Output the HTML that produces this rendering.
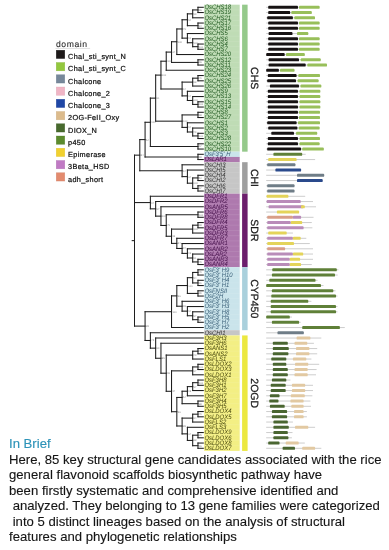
<!DOCTYPE html>
<html><head><meta charset="utf-8"><title>Flavonoid gene families</title>
<style>
html,body{margin:0;padding:0;background:#fff;}
body{width:389px;height:550px;overflow:hidden;position:relative;}
svg{position:absolute;left:0;top:0;text-rendering:geometricPrecision;}
.brief{position:absolute;left:0;top:0;width:389px;font-family:"Liberation Sans",Arial,sans-serif;}
.brief p{position:absolute;margin:0;white-space:pre;font-size:13.15px;line-height:15px;color:#151515;left:9.0px;-webkit-text-stroke:0.12px #151515;}
.brief .hd{color:#2d93b8;-webkit-text-stroke:0.15px #2d93b8;}
</style></head><body>

<svg width="389" height="550" viewBox="0 0 389 550">
<rect x="204.1" y="4.67" width="35.6" height="147" fill="#bfdcb5"/>
<rect x="204.1" y="151.68" width="35.6" height="5.25" fill="#cae4eb"/>
<rect x="204.1" y="156.93" width="35.6" height="5.25" fill="#ae79ae"/>
<rect x="204.1" y="162.18" width="35.6" height="31.5" fill="#c6c6c6"/>
<rect x="204.1" y="193.68" width="35.6" height="73.5" fill="#ae79ae"/>
<rect x="204.1" y="267.18" width="35.6" height="63" fill="#cae4eb"/>
<rect x="204.1" y="330.18" width="35.6" height="5.25" fill="#c6c6c6"/>
<rect x="204.1" y="335.43" width="35.6" height="115.5" fill="#f3ef84"/>
<g stroke="#ffffff" stroke-opacity="0.18" stroke-width="0.5">
<line x1="204.1" y1="9.93" x2="239.7" y2="9.93"/>
<line x1="204.1" y1="15.18" x2="239.7" y2="15.18"/>
<line x1="204.1" y1="20.43" x2="239.7" y2="20.43"/>
<line x1="204.1" y1="25.68" x2="239.7" y2="25.68"/>
<line x1="204.1" y1="30.93" x2="239.7" y2="30.93"/>
<line x1="204.1" y1="36.17" x2="239.7" y2="36.17"/>
<line x1="204.1" y1="41.42" x2="239.7" y2="41.42"/>
<line x1="204.1" y1="46.67" x2="239.7" y2="46.67"/>
<line x1="204.1" y1="51.92" x2="239.7" y2="51.92"/>
<line x1="204.1" y1="57.17" x2="239.7" y2="57.17"/>
<line x1="204.1" y1="62.42" x2="239.7" y2="62.42"/>
<line x1="204.1" y1="67.67" x2="239.7" y2="67.67"/>
<line x1="204.1" y1="72.92" x2="239.7" y2="72.92"/>
<line x1="204.1" y1="78.17" x2="239.7" y2="78.17"/>
<line x1="204.1" y1="83.42" x2="239.7" y2="83.42"/>
<line x1="204.1" y1="88.67" x2="239.7" y2="88.67"/>
<line x1="204.1" y1="93.92" x2="239.7" y2="93.92"/>
<line x1="204.1" y1="99.17" x2="239.7" y2="99.17"/>
<line x1="204.1" y1="104.42" x2="239.7" y2="104.42"/>
<line x1="204.1" y1="109.67" x2="239.7" y2="109.67"/>
<line x1="204.1" y1="114.92" x2="239.7" y2="114.92"/>
<line x1="204.1" y1="120.17" x2="239.7" y2="120.17"/>
<line x1="204.1" y1="125.42" x2="239.7" y2="125.42"/>
<line x1="204.1" y1="130.68" x2="239.7" y2="130.68"/>
<line x1="204.1" y1="135.93" x2="239.7" y2="135.93"/>
<line x1="204.1" y1="141.18" x2="239.7" y2="141.18"/>
<line x1="204.1" y1="146.43" x2="239.7" y2="146.43"/>
<line x1="204.1" y1="167.43" x2="239.7" y2="167.43"/>
<line x1="204.1" y1="172.68" x2="239.7" y2="172.68"/>
<line x1="204.1" y1="177.93" x2="239.7" y2="177.93"/>
<line x1="204.1" y1="183.18" x2="239.7" y2="183.18"/>
<line x1="204.1" y1="188.43" x2="239.7" y2="188.43"/>
<line x1="204.1" y1="198.93" x2="239.7" y2="198.93"/>
<line x1="204.1" y1="204.18" x2="239.7" y2="204.18"/>
<line x1="204.1" y1="209.43" x2="239.7" y2="209.43"/>
<line x1="204.1" y1="214.68" x2="239.7" y2="214.68"/>
<line x1="204.1" y1="219.93" x2="239.7" y2="219.93"/>
<line x1="204.1" y1="225.18" x2="239.7" y2="225.18"/>
<line x1="204.1" y1="230.43" x2="239.7" y2="230.43"/>
<line x1="204.1" y1="235.68" x2="239.7" y2="235.68"/>
<line x1="204.1" y1="240.93" x2="239.7" y2="240.93"/>
<line x1="204.1" y1="246.18" x2="239.7" y2="246.18"/>
<line x1="204.1" y1="251.43" x2="239.7" y2="251.43"/>
<line x1="204.1" y1="256.68" x2="239.7" y2="256.68"/>
<line x1="204.1" y1="261.93" x2="239.7" y2="261.93"/>
<line x1="204.1" y1="272.43" x2="239.7" y2="272.43"/>
<line x1="204.1" y1="277.68" x2="239.7" y2="277.68"/>
<line x1="204.1" y1="282.93" x2="239.7" y2="282.93"/>
<line x1="204.1" y1="288.18" x2="239.7" y2="288.18"/>
<line x1="204.1" y1="293.43" x2="239.7" y2="293.43"/>
<line x1="204.1" y1="298.68" x2="239.7" y2="298.68"/>
<line x1="204.1" y1="303.93" x2="239.7" y2="303.93"/>
<line x1="204.1" y1="309.18" x2="239.7" y2="309.18"/>
<line x1="204.1" y1="314.43" x2="239.7" y2="314.43"/>
<line x1="204.1" y1="319.68" x2="239.7" y2="319.68"/>
<line x1="204.1" y1="324.93" x2="239.7" y2="324.93"/>
<line x1="204.1" y1="340.68" x2="239.7" y2="340.68"/>
<line x1="204.1" y1="345.93" x2="239.7" y2="345.93"/>
<line x1="204.1" y1="351.18" x2="239.7" y2="351.18"/>
<line x1="204.1" y1="356.43" x2="239.7" y2="356.43"/>
<line x1="204.1" y1="361.68" x2="239.7" y2="361.68"/>
<line x1="204.1" y1="366.93" x2="239.7" y2="366.93"/>
<line x1="204.1" y1="372.18" x2="239.7" y2="372.18"/>
<line x1="204.1" y1="377.43" x2="239.7" y2="377.43"/>
<line x1="204.1" y1="382.68" x2="239.7" y2="382.68"/>
<line x1="204.1" y1="387.93" x2="239.7" y2="387.93"/>
<line x1="204.1" y1="393.18" x2="239.7" y2="393.18"/>
<line x1="204.1" y1="398.43" x2="239.7" y2="398.43"/>
<line x1="204.1" y1="403.68" x2="239.7" y2="403.68"/>
<line x1="204.1" y1="408.93" x2="239.7" y2="408.93"/>
<line x1="204.1" y1="414.18" x2="239.7" y2="414.18"/>
<line x1="204.1" y1="419.43" x2="239.7" y2="419.43"/>
<line x1="204.1" y1="424.68" x2="239.7" y2="424.68"/>
<line x1="204.1" y1="429.93" x2="239.7" y2="429.93"/>
<line x1="204.1" y1="435.18" x2="239.7" y2="435.18"/>
<line x1="204.1" y1="440.43" x2="239.7" y2="440.43"/>
<line x1="204.1" y1="445.68" x2="239.7" y2="445.68"/>
</g>
<rect x="242.1" y="4.67" width="5.5" height="147" fill="#95c98b"/>
<rect x="242.1" y="162.18" width="5.5" height="31.5" fill="#9f9f9f"/>
<rect x="242.1" y="193.68" width="5.5" height="73.5" fill="#6c1e6c"/>
<rect x="242.1" y="267.18" width="5.5" height="63" fill="#aad0dc"/>
<rect x="242.1" y="335.43" width="5.5" height="115.5" fill="#ece841"/>
<text x="0" y="0" transform="translate(250.6 78.18) rotate(90)" text-anchor="middle" font-family="Liberation Sans, Arial, sans-serif" font-size="10.5" fill="#1a1a1a" stroke="#1a1a1a" stroke-width="0.25">CHS</text>
<text x="0" y="0" transform="translate(250.6 177.93) rotate(90)" text-anchor="middle" font-family="Liberation Sans, Arial, sans-serif" font-size="10.5" fill="#1a1a1a" stroke="#1a1a1a" stroke-width="0.25">CHI</text>
<text x="0" y="0" transform="translate(250.6 230.43) rotate(90)" text-anchor="middle" font-family="Liberation Sans, Arial, sans-serif" font-size="10.5" fill="#1a1a1a" stroke="#1a1a1a" stroke-width="0.25">SDR</text>
<text x="0" y="0" transform="translate(250.6 298.68) rotate(90)" text-anchor="middle" font-family="Liberation Sans, Arial, sans-serif" font-size="10.5" fill="#1a1a1a" stroke="#1a1a1a" stroke-width="0.25">CYP450</text>
<text x="0" y="0" transform="translate(250.6 393.18) rotate(90)" text-anchor="middle" font-family="Liberation Sans, Arial, sans-serif" font-size="10.5" fill="#1a1a1a" stroke="#1a1a1a" stroke-width="0.25">2OGD</text>
<g stroke="#1e1e1e" stroke-width="1.05" stroke-linecap="square" fill="none">
<line x1="197.98" y1="7.3" x2="203.3" y2="7.3"/>
<line x1="197.98" y1="12.55" x2="203.3" y2="12.55"/>
<line x1="197.98" y1="7.3" x2="197.98" y2="12.55"/>
<line x1="192.69" y1="9.93" x2="197.98" y2="9.93"/>
<line x1="192.69" y1="17.8" x2="203.3" y2="17.8"/>
<line x1="192.69" y1="9.93" x2="192.69" y2="17.8"/>
<line x1="197.98" y1="23.05" x2="203.3" y2="23.05"/>
<line x1="197.98" y1="28.3" x2="203.3" y2="28.3"/>
<line x1="197.98" y1="23.05" x2="197.98" y2="28.3"/>
<line x1="187.4" y1="13.86" x2="192.69" y2="13.86"/>
<line x1="187.4" y1="25.68" x2="197.98" y2="25.68"/>
<line x1="187.4" y1="13.86" x2="187.4" y2="25.68"/>
<line x1="197.98" y1="44.05" x2="203.3" y2="44.05"/>
<line x1="197.98" y1="49.3" x2="203.3" y2="49.3"/>
<line x1="197.98" y1="44.05" x2="197.98" y2="49.3"/>
<line x1="192.69" y1="38.8" x2="203.3" y2="38.8"/>
<line x1="192.69" y1="46.67" x2="197.98" y2="46.67"/>
<line x1="192.69" y1="38.8" x2="192.69" y2="46.67"/>
<line x1="187.4" y1="33.55" x2="203.3" y2="33.55"/>
<line x1="187.4" y1="42.74" x2="192.69" y2="42.74"/>
<line x1="187.4" y1="33.55" x2="187.4" y2="42.74"/>
<line x1="182.11" y1="19.77" x2="187.4" y2="19.77"/>
<line x1="182.11" y1="38.14" x2="187.4" y2="38.14"/>
<line x1="182.11" y1="19.77" x2="182.11" y2="38.14"/>
<line x1="176.82" y1="28.96" x2="182.11" y2="28.96"/>
<line x1="176.82" y1="54.55" x2="203.3" y2="54.55"/>
<line x1="176.82" y1="28.96" x2="176.82" y2="54.55"/>
<line x1="197.98" y1="59.8" x2="203.3" y2="59.8"/>
<line x1="197.98" y1="65.05" x2="203.3" y2="65.05"/>
<line x1="197.98" y1="59.8" x2="197.98" y2="65.05"/>
<line x1="171.53" y1="41.75" x2="176.82" y2="41.75"/>
<line x1="171.53" y1="62.42" x2="197.98" y2="62.42"/>
<line x1="171.53" y1="41.75" x2="171.53" y2="62.42"/>
<line x1="166.24" y1="52.09" x2="171.53" y2="52.09"/>
<line x1="166.24" y1="70.3" x2="203.3" y2="70.3"/>
<line x1="166.24" y1="52.09" x2="166.24" y2="70.3"/>
<line x1="197.98" y1="75.55" x2="203.3" y2="75.55"/>
<line x1="197.98" y1="80.8" x2="203.3" y2="80.8"/>
<line x1="197.98" y1="75.55" x2="197.98" y2="80.8"/>
<line x1="192.69" y1="78.17" x2="197.98" y2="78.17"/>
<line x1="192.69" y1="86.05" x2="203.3" y2="86.05"/>
<line x1="192.69" y1="78.17" x2="192.69" y2="86.05"/>
<line x1="197.98" y1="101.8" x2="203.3" y2="101.8"/>
<line x1="197.98" y1="107.05" x2="203.3" y2="107.05"/>
<line x1="197.98" y1="101.8" x2="197.98" y2="107.05"/>
<line x1="192.69" y1="96.55" x2="203.3" y2="96.55"/>
<line x1="192.69" y1="104.42" x2="197.98" y2="104.42"/>
<line x1="192.69" y1="96.55" x2="192.69" y2="104.42"/>
<line x1="187.4" y1="91.3" x2="203.3" y2="91.3"/>
<line x1="187.4" y1="100.49" x2="192.69" y2="100.49"/>
<line x1="187.4" y1="91.3" x2="187.4" y2="100.49"/>
<line x1="182.11" y1="82.11" x2="192.69" y2="82.11"/>
<line x1="182.11" y1="95.89" x2="187.4" y2="95.89"/>
<line x1="182.11" y1="82.11" x2="182.11" y2="95.89"/>
<line x1="160.95" y1="61.19" x2="166.24" y2="61.19"/>
<line x1="160.95" y1="89" x2="182.11" y2="89"/>
<line x1="160.95" y1="61.19" x2="160.95" y2="89"/>
<line x1="197.98" y1="112.3" x2="203.3" y2="112.3"/>
<line x1="197.98" y1="117.55" x2="203.3" y2="117.55"/>
<line x1="197.98" y1="112.3" x2="197.98" y2="117.55"/>
<line x1="197.98" y1="133.3" x2="203.3" y2="133.3"/>
<line x1="197.98" y1="138.55" x2="203.3" y2="138.55"/>
<line x1="197.98" y1="133.3" x2="197.98" y2="138.55"/>
<line x1="192.69" y1="128.05" x2="203.3" y2="128.05"/>
<line x1="192.69" y1="135.93" x2="197.98" y2="135.93"/>
<line x1="192.69" y1="128.05" x2="192.69" y2="135.93"/>
<line x1="187.4" y1="122.8" x2="203.3" y2="122.8"/>
<line x1="187.4" y1="131.99" x2="192.69" y2="131.99"/>
<line x1="187.4" y1="122.8" x2="187.4" y2="131.99"/>
<line x1="182.11" y1="114.92" x2="197.98" y2="114.92"/>
<line x1="182.11" y1="127.39" x2="187.4" y2="127.39"/>
<line x1="182.11" y1="114.92" x2="182.11" y2="127.39"/>
<line x1="155.66" y1="75.1" x2="160.95" y2="75.1"/>
<line x1="155.66" y1="121.16" x2="182.11" y2="121.16"/>
<line x1="155.66" y1="75.1" x2="155.66" y2="121.16"/>
<line x1="197.98" y1="143.8" x2="203.3" y2="143.8"/>
<line x1="197.98" y1="149.05" x2="203.3" y2="149.05"/>
<line x1="197.98" y1="143.8" x2="197.98" y2="149.05"/>
<line x1="150.37" y1="98.13" x2="155.66" y2="98.13"/>
<line x1="150.37" y1="146.43" x2="197.98" y2="146.43"/>
<line x1="150.37" y1="98.13" x2="150.37" y2="146.43"/>
<line x1="197.98" y1="154.3" x2="203.3" y2="154.3"/>
<line x1="197.98" y1="159.55" x2="203.3" y2="159.55"/>
<line x1="197.98" y1="154.3" x2="197.98" y2="159.55"/>
<line x1="145.08" y1="122.28" x2="150.37" y2="122.28"/>
<line x1="145.08" y1="156.93" x2="197.98" y2="156.93"/>
<line x1="145.08" y1="122.28" x2="145.08" y2="156.93"/>
<line x1="197.98" y1="175.3" x2="203.3" y2="175.3"/>
<line x1="197.98" y1="180.55" x2="203.3" y2="180.55"/>
<line x1="197.98" y1="175.3" x2="197.98" y2="180.55"/>
<line x1="197.98" y1="185.8" x2="203.3" y2="185.8"/>
<line x1="197.98" y1="191.05" x2="203.3" y2="191.05"/>
<line x1="197.98" y1="185.8" x2="197.98" y2="191.05"/>
<line x1="192.69" y1="177.93" x2="197.98" y2="177.93"/>
<line x1="192.69" y1="188.43" x2="197.98" y2="188.43"/>
<line x1="192.69" y1="177.93" x2="192.69" y2="188.43"/>
<line x1="187.4" y1="170.05" x2="203.3" y2="170.05"/>
<line x1="187.4" y1="183.18" x2="192.69" y2="183.18"/>
<line x1="187.4" y1="170.05" x2="187.4" y2="183.18"/>
<line x1="182.11" y1="164.8" x2="203.3" y2="164.8"/>
<line x1="182.11" y1="176.61" x2="187.4" y2="176.61"/>
<line x1="182.11" y1="164.8" x2="182.11" y2="176.61"/>
<line x1="139.79" y1="139.6" x2="145.08" y2="139.6"/>
<line x1="139.79" y1="170.71" x2="182.11" y2="170.71"/>
<line x1="139.79" y1="139.6" x2="139.79" y2="170.71"/>
<line x1="197.98" y1="212.05" x2="203.3" y2="212.05"/>
<line x1="197.98" y1="217.3" x2="203.3" y2="217.3"/>
<line x1="197.98" y1="212.05" x2="197.98" y2="217.3"/>
<line x1="197.98" y1="222.55" x2="203.3" y2="222.55"/>
<line x1="197.98" y1="227.8" x2="203.3" y2="227.8"/>
<line x1="197.98" y1="222.55" x2="197.98" y2="227.8"/>
<line x1="192.69" y1="225.18" x2="197.98" y2="225.18"/>
<line x1="192.69" y1="233.05" x2="203.3" y2="233.05"/>
<line x1="192.69" y1="225.18" x2="192.69" y2="233.05"/>
<line x1="197.98" y1="259.3" x2="203.3" y2="259.3"/>
<line x1="197.98" y1="264.55" x2="203.3" y2="264.55"/>
<line x1="197.98" y1="259.3" x2="197.98" y2="264.55"/>
<line x1="192.69" y1="254.05" x2="203.3" y2="254.05"/>
<line x1="192.69" y1="261.93" x2="197.98" y2="261.93"/>
<line x1="192.69" y1="254.05" x2="192.69" y2="261.93"/>
<line x1="187.4" y1="248.8" x2="203.3" y2="248.8"/>
<line x1="187.4" y1="257.99" x2="192.69" y2="257.99"/>
<line x1="187.4" y1="248.8" x2="187.4" y2="257.99"/>
<line x1="182.11" y1="243.55" x2="203.3" y2="243.55"/>
<line x1="182.11" y1="253.39" x2="187.4" y2="253.39"/>
<line x1="182.11" y1="243.55" x2="182.11" y2="253.39"/>
<line x1="176.82" y1="238.3" x2="203.3" y2="238.3"/>
<line x1="176.82" y1="248.47" x2="182.11" y2="248.47"/>
<line x1="176.82" y1="238.3" x2="176.82" y2="248.47"/>
<line x1="171.53" y1="229.11" x2="192.69" y2="229.11"/>
<line x1="171.53" y1="243.39" x2="176.82" y2="243.39"/>
<line x1="171.53" y1="229.11" x2="171.53" y2="243.39"/>
<line x1="166.24" y1="214.68" x2="197.98" y2="214.68"/>
<line x1="166.24" y1="236.25" x2="171.53" y2="236.25"/>
<line x1="166.24" y1="214.68" x2="166.24" y2="236.25"/>
<line x1="160.95" y1="206.8" x2="203.3" y2="206.8"/>
<line x1="160.95" y1="225.46" x2="166.24" y2="225.46"/>
<line x1="160.95" y1="206.8" x2="160.95" y2="225.46"/>
<line x1="155.66" y1="201.55" x2="203.3" y2="201.55"/>
<line x1="155.66" y1="216.13" x2="160.95" y2="216.13"/>
<line x1="155.66" y1="201.55" x2="155.66" y2="216.13"/>
<line x1="150.37" y1="196.3" x2="203.3" y2="196.3"/>
<line x1="150.37" y1="208.84" x2="155.66" y2="208.84"/>
<line x1="150.37" y1="196.3" x2="150.37" y2="208.84"/>
<line x1="197.98" y1="269.8" x2="203.3" y2="269.8"/>
<line x1="197.98" y1="275.05" x2="203.3" y2="275.05"/>
<line x1="197.98" y1="269.8" x2="197.98" y2="275.05"/>
<line x1="197.98" y1="280.3" x2="203.3" y2="280.3"/>
<line x1="197.98" y1="285.55" x2="203.3" y2="285.55"/>
<line x1="197.98" y1="280.3" x2="197.98" y2="285.55"/>
<line x1="192.69" y1="272.43" x2="197.98" y2="272.43"/>
<line x1="192.69" y1="282.93" x2="197.98" y2="282.93"/>
<line x1="192.69" y1="272.43" x2="192.69" y2="282.93"/>
<line x1="197.98" y1="290.8" x2="203.3" y2="290.8"/>
<line x1="197.98" y1="296.05" x2="203.3" y2="296.05"/>
<line x1="197.98" y1="290.8" x2="197.98" y2="296.05"/>
<line x1="187.4" y1="277.68" x2="192.69" y2="277.68"/>
<line x1="187.4" y1="293.43" x2="197.98" y2="293.43"/>
<line x1="187.4" y1="277.68" x2="187.4" y2="293.43"/>
<line x1="197.98" y1="317.05" x2="203.3" y2="317.05"/>
<line x1="197.98" y1="322.3" x2="203.3" y2="322.3"/>
<line x1="197.98" y1="317.05" x2="197.98" y2="322.3"/>
<line x1="192.69" y1="311.8" x2="203.3" y2="311.8"/>
<line x1="192.69" y1="319.68" x2="197.98" y2="319.68"/>
<line x1="192.69" y1="311.8" x2="192.69" y2="319.68"/>
<line x1="187.4" y1="306.55" x2="203.3" y2="306.55"/>
<line x1="187.4" y1="315.74" x2="192.69" y2="315.74"/>
<line x1="187.4" y1="306.55" x2="187.4" y2="315.74"/>
<line x1="182.11" y1="301.3" x2="203.3" y2="301.3"/>
<line x1="182.11" y1="311.14" x2="187.4" y2="311.14"/>
<line x1="182.11" y1="301.3" x2="182.11" y2="311.14"/>
<line x1="176.82" y1="285.55" x2="187.4" y2="285.55"/>
<line x1="176.82" y1="306.22" x2="182.11" y2="306.22"/>
<line x1="176.82" y1="285.55" x2="176.82" y2="306.22"/>
<line x1="171.53" y1="295.89" x2="176.82" y2="295.89"/>
<line x1="171.53" y1="327.55" x2="203.3" y2="327.55"/>
<line x1="171.53" y1="295.89" x2="171.53" y2="327.55"/>
<line x1="197.98" y1="348.55" x2="203.3" y2="348.55"/>
<line x1="197.98" y1="353.8" x2="203.3" y2="353.8"/>
<line x1="197.98" y1="348.55" x2="197.98" y2="353.8"/>
<line x1="192.69" y1="351.18" x2="197.98" y2="351.18"/>
<line x1="192.69" y1="359.05" x2="203.3" y2="359.05"/>
<line x1="192.69" y1="351.18" x2="192.69" y2="359.05"/>
<line x1="197.98" y1="364.3" x2="203.3" y2="364.3"/>
<line x1="197.98" y1="369.55" x2="203.3" y2="369.55"/>
<line x1="197.98" y1="364.3" x2="197.98" y2="369.55"/>
<line x1="192.69" y1="366.93" x2="197.98" y2="366.93"/>
<line x1="192.69" y1="374.8" x2="203.3" y2="374.8"/>
<line x1="192.69" y1="366.93" x2="192.69" y2="374.8"/>
<line x1="197.98" y1="380.05" x2="203.3" y2="380.05"/>
<line x1="197.98" y1="385.3" x2="203.3" y2="385.3"/>
<line x1="197.98" y1="380.05" x2="197.98" y2="385.3"/>
<line x1="192.69" y1="382.68" x2="197.98" y2="382.68"/>
<line x1="192.69" y1="390.55" x2="203.3" y2="390.55"/>
<line x1="192.69" y1="382.68" x2="192.69" y2="390.55"/>
<line x1="187.4" y1="386.61" x2="192.69" y2="386.61"/>
<line x1="187.4" y1="395.8" x2="203.3" y2="395.8"/>
<line x1="187.4" y1="386.61" x2="187.4" y2="395.8"/>
<line x1="197.98" y1="401.05" x2="203.3" y2="401.05"/>
<line x1="197.98" y1="406.3" x2="203.3" y2="406.3"/>
<line x1="197.98" y1="401.05" x2="197.98" y2="406.3"/>
<line x1="182.11" y1="391.21" x2="187.4" y2="391.21"/>
<line x1="182.11" y1="403.68" x2="197.98" y2="403.68"/>
<line x1="182.11" y1="391.21" x2="182.11" y2="403.68"/>
<line x1="197.98" y1="411.55" x2="203.3" y2="411.55"/>
<line x1="197.98" y1="416.8" x2="203.3" y2="416.8"/>
<line x1="197.98" y1="411.55" x2="197.98" y2="416.8"/>
<line x1="192.69" y1="414.18" x2="197.98" y2="414.18"/>
<line x1="192.69" y1="422.05" x2="203.3" y2="422.05"/>
<line x1="192.69" y1="414.18" x2="192.69" y2="422.05"/>
<line x1="197.98" y1="432.55" x2="203.3" y2="432.55"/>
<line x1="197.98" y1="437.8" x2="203.3" y2="437.8"/>
<line x1="197.98" y1="432.55" x2="197.98" y2="437.8"/>
<line x1="197.98" y1="443.05" x2="203.3" y2="443.05"/>
<line x1="197.98" y1="448.3" x2="203.3" y2="448.3"/>
<line x1="197.98" y1="443.05" x2="197.98" y2="448.3"/>
<line x1="192.69" y1="435.18" x2="197.98" y2="435.18"/>
<line x1="192.69" y1="445.68" x2="197.98" y2="445.68"/>
<line x1="192.69" y1="435.18" x2="192.69" y2="445.68"/>
<line x1="187.4" y1="427.3" x2="203.3" y2="427.3"/>
<line x1="187.4" y1="440.43" x2="192.69" y2="440.43"/>
<line x1="187.4" y1="427.3" x2="187.4" y2="440.43"/>
<line x1="182.11" y1="418.11" x2="192.69" y2="418.11"/>
<line x1="182.11" y1="433.86" x2="187.4" y2="433.86"/>
<line x1="182.11" y1="418.11" x2="182.11" y2="433.86"/>
<line x1="176.82" y1="397.44" x2="182.11" y2="397.44"/>
<line x1="176.82" y1="425.99" x2="182.11" y2="425.99"/>
<line x1="176.82" y1="397.44" x2="176.82" y2="425.99"/>
<line x1="171.53" y1="370.86" x2="192.69" y2="370.86"/>
<line x1="171.53" y1="411.71" x2="176.82" y2="411.71"/>
<line x1="171.53" y1="370.86" x2="171.53" y2="411.71"/>
<line x1="166.24" y1="355.11" x2="192.69" y2="355.11"/>
<line x1="166.24" y1="391.29" x2="171.53" y2="391.29"/>
<line x1="166.24" y1="355.11" x2="166.24" y2="391.29"/>
<line x1="160.95" y1="343.3" x2="203.3" y2="343.3"/>
<line x1="160.95" y1="373.2" x2="166.24" y2="373.2"/>
<line x1="160.95" y1="343.3" x2="160.95" y2="373.2"/>
<line x1="155.66" y1="338.05" x2="203.3" y2="338.05"/>
<line x1="155.66" y1="358.25" x2="160.95" y2="358.25"/>
<line x1="155.66" y1="338.05" x2="155.66" y2="358.25"/>
<line x1="150.37" y1="332.8" x2="203.3" y2="332.8"/>
<line x1="150.37" y1="348.15" x2="155.66" y2="348.15"/>
<line x1="150.37" y1="332.8" x2="150.37" y2="348.15"/>
<line x1="145.08" y1="311.72" x2="171.53" y2="311.72"/>
<line x1="145.08" y1="340.48" x2="150.37" y2="340.48"/>
<line x1="145.08" y1="311.72" x2="145.08" y2="340.48"/>
<line x1="134.5" y1="155.15" x2="139.79" y2="155.15"/>
<line x1="134.5" y1="202.57" x2="150.37" y2="202.57"/>
<line x1="134.5" y1="326.1" x2="145.08" y2="326.1"/>
<line x1="134.5" y1="155.15" x2="134.5" y2="326.1"/>
<line x1="132.2" y1="240.63" x2="134.5" y2="240.63"/>
</g>
<g font-family="Liberation Sans, Arial, sans-serif" font-size="2.6" fill="#8a8a8a">
<text x="198.88" y="10.93">96</text>
<text x="193.59" y="14.86">99</text>
<text x="198.88" y="26.68">94</text>
<text x="188.3" y="20.77">54</text>
<text x="198.88" y="47.67">100</text>
<text x="193.59" y="43.74">100</text>
<text x="188.3" y="39.14">91</text>
<text x="183.01" y="29.96">79</text>
<text x="177.72" y="42.75">100</text>
<text x="198.88" y="63.42">96</text>
<text x="172.43" y="53.09">67</text>
<text x="167.14" y="62.19">100</text>
<text x="198.88" y="79.17">79</text>
<text x="193.59" y="83.11">98</text>
<text x="198.88" y="105.42">100</text>
<text x="193.59" y="101.49">100</text>
<text x="188.3" y="96.89">94</text>
<text x="183.01" y="90">94</text>
<text x="161.85" y="76.1">100</text>
<text x="198.88" y="115.92">98</text>
<text x="198.88" y="136.93">100</text>
<text x="193.59" y="132.99">79</text>
<text x="188.3" y="128.39">94</text>
<text x="183.01" y="122.16">100</text>
<text x="156.56" y="99.13">91</text>
<text x="198.88" y="147.43">67</text>
<text x="151.27" y="123.28">100</text>
<text x="198.88" y="157.93">98</text>
<text x="145.98" y="140.6">54</text>
<text x="198.88" y="178.93">54</text>
<text x="198.88" y="189.43">67</text>
<text x="193.59" y="184.18">100</text>
<text x="188.3" y="177.61">67</text>
<text x="183.01" y="171.71">67</text>
<text x="140.69" y="156.15">94</text>
<text x="198.88" y="215.68">100</text>
<text x="198.88" y="226.18">98</text>
<text x="193.59" y="230.11">100</text>
<text x="198.88" y="262.93">79</text>
<text x="193.59" y="258.99">91</text>
<text x="188.3" y="254.39">99</text>
<text x="183.01" y="249.47">97</text>
<text x="177.72" y="244.39">94</text>
<text x="172.43" y="237.25">99</text>
<text x="167.14" y="226.46">79</text>
<text x="161.85" y="217.13">100</text>
<text x="156.56" y="209.84">67</text>
<text x="151.27" y="203.57">97</text>
<text x="198.88" y="273.43">79</text>
<text x="198.88" y="283.93">91</text>
<text x="193.59" y="278.68">54</text>
<text x="198.88" y="294.43">99</text>
<text x="188.3" y="286.55">100</text>
<text x="198.88" y="320.68">67</text>
<text x="193.59" y="316.74">67</text>
<text x="188.3" y="312.14">54</text>
<text x="183.01" y="307.22">98</text>
<text x="177.72" y="296.89">96</text>
<text x="172.43" y="312.72">100</text>
<text x="198.88" y="352.18">79</text>
<text x="193.59" y="356.11">73</text>
<text x="198.88" y="367.93">100</text>
<text x="193.59" y="371.86">67</text>
<text x="198.88" y="383.68">100</text>
<text x="193.59" y="387.61">67</text>
<text x="188.3" y="392.21">98</text>
<text x="198.88" y="404.68">88</text>
<text x="183.01" y="398.44">54</text>
<text x="198.88" y="415.18">79</text>
<text x="193.59" y="419.11">94</text>
<text x="198.88" y="436.18">85</text>
<text x="198.88" y="446.68">96</text>
<text x="193.59" y="441.43">88</text>
<text x="188.3" y="434.86">67</text>
<text x="183.01" y="426.99">88</text>
<text x="177.72" y="412.71">96</text>
<text x="172.43" y="392.29">97</text>
<text x="167.14" y="374.2">98</text>
<text x="161.85" y="359.25">85</text>
<text x="156.56" y="349.15">99</text>
<text x="151.27" y="341.48">73</text>
<text x="145.98" y="327.1">85</text>
</g>
<g font-family="Liberation Sans, Arial, sans-serif" font-style="italic" font-size="6.4">
<text transform="translate(204.4 9.05) scale(0.93 1)" fill="#225a22">OsCHS18</text>
<text transform="translate(204.4 14.3) scale(0.93 1)" fill="#225a22">OsCHS19</text>
<text transform="translate(204.4 19.55) scale(0.93 1)" fill="#225a22">OsCHS21</text>
<text transform="translate(204.4 24.8) scale(0.93 1)" fill="#225a22">OsCHS17</text>
<text transform="translate(204.4 30.05) scale(0.93 1)" fill="#225a22">OsCHS16</text>
<text transform="translate(204.4 35.3) scale(0.93 1)" fill="#225a22">OsCHS5</text>
<text transform="translate(204.4 40.55) scale(0.93 1)" fill="#225a22">OsCHS6</text>
<text transform="translate(204.4 45.8) scale(0.93 1)" fill="#225a22">OsCHS4</text>
<text transform="translate(204.4 51.05) scale(0.93 1)" fill="#225a22">OsCHS7</text>
<text transform="translate(204.4 56.3) scale(0.93 1)" fill="#225a22">OsCHS20</text>
<text transform="translate(204.4 61.55) scale(0.93 1)" fill="#225a22">OsCHS12</text>
<text transform="translate(204.4 66.8) scale(0.93 1)" fill="#225a22">OsCHS11</text>
<text transform="translate(204.4 72.05) scale(0.93 1)" fill="#225a22">OsCHS23</text>
<text transform="translate(204.4 77.3) scale(0.93 1)" fill="#225a22">OsCHS24</text>
<text transform="translate(204.4 82.55) scale(0.93 1)" fill="#225a22">OsCHS25</text>
<text transform="translate(204.4 87.8) scale(0.93 1)" fill="#225a22">OsCHS26</text>
<text transform="translate(204.4 93.05) scale(0.93 1)" fill="#225a22">OsCHS9</text>
<text transform="translate(204.4 98.3) scale(0.93 1)" fill="#225a22">OsCHS13</text>
<text transform="translate(204.4 103.55) scale(0.93 1)" fill="#225a22">OsCHS15</text>
<text transform="translate(204.4 108.8) scale(0.93 1)" fill="#225a22">OsCHS14</text>
<text transform="translate(204.4 114.05) scale(0.93 1)" fill="#225a22">OsCHS8</text>
<text transform="translate(204.4 119.3) scale(0.93 1)" fill="#225a22">OsCHS27</text>
<text transform="translate(204.4 124.55) scale(0.93 1)" fill="#225a22">OsCHS1</text>
<text transform="translate(204.4 129.8) scale(0.93 1)" fill="#225a22">OsCHS2</text>
<text transform="translate(204.4 135.05) scale(0.93 1)" fill="#225a22">OsCHS3</text>
<text transform="translate(204.4 140.3) scale(0.93 1)" fill="#225a22">OsCHS28</text>
<text transform="translate(204.4 145.55) scale(0.93 1)" fill="#225a22">OsCHS22</text>
<text transform="translate(204.4 150.8) scale(0.93 1)" fill="#225a22">OsCHS10</text>
<text transform="translate(204.4 156.05) scale(0.93 1)" fill="#3a5f78">OsF3'5' H</text>
<text transform="translate(204.4 161.3) scale(0.93 1)" fill="#44104a">OsLAR1</text>
<text transform="translate(204.4 166.55) scale(0.93 1)" fill="#333333">OsCHI3</text>
<text transform="translate(204.4 171.8) scale(0.93 1)" fill="#333333">OsCHI5</text>
<text transform="translate(204.4 177.05) scale(0.93 1)" fill="#333333">OsCHI4</text>
<text transform="translate(204.4 182.3) scale(0.93 1)" fill="#333333">OsCHI2</text>
<text transform="translate(204.4 187.55) scale(0.93 1)" fill="#333333">OsCHI6</text>
<text transform="translate(204.4 192.8) scale(0.93 1)" fill="#333333">OsCHI7</text>
<text transform="translate(204.4 198.05) scale(0.93 1)" fill="#44104a">OsDFR1</text>
<text transform="translate(204.4 203.3) scale(0.93 1)" fill="#44104a">OsDFR2</text>
<text transform="translate(204.4 208.55) scale(0.93 1)" fill="#44104a">OsANR5</text>
<text transform="translate(204.4 213.8) scale(0.93 1)" fill="#44104a">OsDFR6</text>
<text transform="translate(204.4 219.05) scale(0.93 1)" fill="#44104a">OsDFR8</text>
<text transform="translate(204.4 224.3) scale(0.93 1)" fill="#44104a">OsDFR4</text>
<text transform="translate(204.4 229.55) scale(0.93 1)" fill="#44104a">OsDFR5</text>
<text transform="translate(204.4 234.8) scale(0.93 1)" fill="#44104a">OsDFR3</text>
<text transform="translate(204.4 240.05) scale(0.93 1)" fill="#44104a">OsDFR7</text>
<text transform="translate(204.4 245.3) scale(0.93 1)" fill="#44104a">OsANR1</text>
<text transform="translate(204.4 250.55) scale(0.93 1)" fill="#44104a">OsANR2</text>
<text transform="translate(204.4 255.8) scale(0.93 1)" fill="#44104a">OsLAR2</text>
<text transform="translate(204.4 261.05) scale(0.93 1)" fill="#44104a">OsANR3</text>
<text transform="translate(204.4 266.3) scale(0.93 1)" fill="#44104a">OsANR4</text>
<text transform="translate(204.4 271.55) scale(0.93 1)" fill="#3a5f78">OsF3' H9</text>
<text transform="translate(204.4 276.8) scale(0.93 1)" fill="#3a5f78">OsF3' H10</text>
<text transform="translate(204.4 282.05) scale(0.93 1)" fill="#3a5f78">OsF3' H4</text>
<text transform="translate(204.4 287.3) scale(0.93 1)" fill="#3a5f78">OsF3' H1</text>
<text transform="translate(204.4 292.55) scale(0.93 1)" fill="#3a5f78">OsFNSII</text>
<text transform="translate(204.4 297.8) scale(0.93 1)" fill="#3a5f78">OsF2H</text>
<text transform="translate(204.4 303.05) scale(0.93 1)" fill="#3a5f78">OsF3' H6</text>
<text transform="translate(204.4 308.3) scale(0.93 1)" fill="#3a5f78">OsF3' H3</text>
<text transform="translate(204.4 313.55) scale(0.93 1)" fill="#3a5f78">OsF3' H8</text>
<text transform="translate(204.4 318.8) scale(0.93 1)" fill="#3a5f78">OsF3' H5</text>
<text transform="translate(204.4 324.05) scale(0.93 1)" fill="#3a5f78">OsF3' H7</text>
<text transform="translate(204.4 329.3) scale(0.93 1)" fill="#3a5f78">OsF3' H2</text>
<text transform="translate(204.4 334.55) scale(0.93 1)" fill="#333333">OsCHI1</text>
<text transform="translate(204.4 339.8) scale(0.93 1)" fill="#4a4a10">OsF3H3</text>
<text transform="translate(204.4 345.05) scale(0.93 1)" fill="#4a4a10">OsF3H6</text>
<text transform="translate(204.4 350.3) scale(0.93 1)" fill="#4a4a10">OsANS1</text>
<text transform="translate(204.4 355.55) scale(0.93 1)" fill="#4a4a10">OsANS2</text>
<text transform="translate(204.4 360.8) scale(0.93 1)" fill="#4a4a10">OsFLS1</text>
<text transform="translate(204.4 366.05) scale(0.93 1)" fill="#4a4a10">OsLDOX2</text>
<text transform="translate(204.4 371.3) scale(0.93 1)" fill="#4a4a10">OsLDOX3</text>
<text transform="translate(204.4 376.55) scale(0.93 1)" fill="#4a4a10">OsLDOX1</text>
<text transform="translate(204.4 381.8) scale(0.93 1)" fill="#4a4a10">OsF3H8</text>
<text transform="translate(204.4 387.05) scale(0.93 1)" fill="#4a4a10">OsF3H1</text>
<text transform="translate(204.4 392.3) scale(0.93 1)" fill="#4a4a10">OsF3H2</text>
<text transform="translate(204.4 397.55) scale(0.93 1)" fill="#4a4a10">OsF3H7</text>
<text transform="translate(204.4 402.8) scale(0.93 1)" fill="#4a4a10">OsF3H4</text>
<text transform="translate(204.4 408.05) scale(0.93 1)" fill="#4a4a10">OsF3H5</text>
<text transform="translate(204.4 413.3) scale(0.93 1)" fill="#4a4a10">OsLDOX4</text>
<text transform="translate(204.4 418.55) scale(0.93 1)" fill="#4a4a10">OsLDOX5</text>
<text transform="translate(204.4 423.8) scale(0.93 1)" fill="#4a4a10">OsFLS2</text>
<text transform="translate(204.4 429.05) scale(0.93 1)" fill="#4a4a10">OsFLS3</text>
<text transform="translate(204.4 434.3) scale(0.93 1)" fill="#4a4a10">OsLDOX9</text>
<text transform="translate(204.4 439.55) scale(0.93 1)" fill="#4a4a10">OsLDOX6</text>
<text transform="translate(204.4 444.8) scale(0.93 1)" fill="#4a4a10">OsLDOX8</text>
<text transform="translate(204.4 450.05) scale(0.93 1)" fill="#4a4a10">OsLDOX7</text>
</g>
<g>
<line x1="266.2" y1="7.3" x2="319.6" y2="7.3" stroke="#9a9a9a" stroke-width="0.5"/>
<rect x="268.2" y="5.8" width="29.8" height="3.0" rx="0.9" fill="#171313"/>
<rect x="299" y="5.8" width="20.6" height="3.0" rx="0.9" fill="#98bf5a"/>
<line x1="266.2" y1="12.55" x2="311.8" y2="12.55" stroke="#9a9a9a" stroke-width="0.5"/>
<rect x="268.2" y="11.05" width="22" height="3.0" rx="0.9" fill="#171313"/>
<rect x="291.3" y="11.05" width="20.5" height="3.0" rx="0.9" fill="#98bf5a"/>
<line x1="266.2" y1="17.8" x2="315" y2="17.8" stroke="#9a9a9a" stroke-width="0.5"/>
<rect x="267.2" y="16.3" width="25.7" height="3.0" rx="0.9" fill="#171313"/>
<rect x="294.3" y="16.3" width="20.7" height="3.0" rx="0.9" fill="#98bf5a"/>
<line x1="266.2" y1="23.05" x2="319.6" y2="23.05" stroke="#9a9a9a" stroke-width="0.5"/>
<rect x="268.2" y="21.55" width="29.8" height="3.0" rx="0.9" fill="#171313"/>
<rect x="299" y="21.55" width="20.6" height="3.0" rx="0.9" fill="#98bf5a"/>
<line x1="266.2" y1="28.3" x2="319.6" y2="28.3" stroke="#9a9a9a" stroke-width="0.5"/>
<rect x="268.2" y="26.8" width="29.8" height="3.0" rx="0.9" fill="#171313"/>
<rect x="299" y="26.8" width="20.6" height="3.0" rx="0.9" fill="#98bf5a"/>
<line x1="266.2" y1="33.55" x2="308.3" y2="33.55" stroke="#9a9a9a" stroke-width="0.5"/>
<rect x="268.6" y="32.05" width="23.9" height="3.0" rx="0.9" fill="#171313"/>
<rect x="297" y="32.05" width="11.3" height="3.0" rx="0.9" fill="#98bf5a"/>
<line x1="266.2" y1="38.8" x2="319.6" y2="38.8" stroke="#9a9a9a" stroke-width="0.5"/>
<rect x="268.2" y="37.3" width="29.8" height="3.0" rx="0.9" fill="#171313"/>
<rect x="299" y="37.3" width="20.6" height="3.0" rx="0.9" fill="#98bf5a"/>
<line x1="266.2" y1="44.05" x2="319.6" y2="44.05" stroke="#9a9a9a" stroke-width="0.5"/>
<rect x="268.2" y="42.55" width="29.8" height="3.0" rx="0.9" fill="#171313"/>
<rect x="299" y="42.55" width="20.6" height="3.0" rx="0.9" fill="#98bf5a"/>
<line x1="266.2" y1="49.3" x2="319.6" y2="49.3" stroke="#9a9a9a" stroke-width="0.5"/>
<rect x="268.2" y="47.8" width="29.8" height="3.0" rx="0.9" fill="#171313"/>
<rect x="299" y="47.8" width="20.6" height="3.0" rx="0.9" fill="#98bf5a"/>
<line x1="266.2" y1="54.55" x2="304.8" y2="54.55" stroke="#9a9a9a" stroke-width="0.5"/>
<rect x="266.2" y="53.05" width="18.5" height="3.0" rx="0.9" fill="#171313"/>
<rect x="286" y="53.05" width="18.8" height="3.0" rx="0.9" fill="#98bf5a"/>
<line x1="266.2" y1="59.8" x2="320.7" y2="59.8" stroke="#9a9a9a" stroke-width="0.5"/>
<rect x="268.6" y="58.3" width="30.4" height="3.0" rx="0.9" fill="#171313"/>
<rect x="300.7" y="58.3" width="20" height="3.0" rx="0.9" fill="#98bf5a"/>
<line x1="266.2" y1="65.05" x2="327" y2="65.05" stroke="#9a9a9a" stroke-width="0.5"/>
<rect x="268.6" y="63.55" width="37.1" height="3.0" rx="0.9" fill="#171313"/>
<rect x="307.3" y="63.55" width="19.7" height="3.0" rx="0.9" fill="#98bf5a"/>
<line x1="266.2" y1="70.3" x2="294.5" y2="70.3" stroke="#9a9a9a" stroke-width="0.5"/>
<rect x="266.2" y="68.8" width="12.7" height="3.0" rx="0.9" fill="#171313"/>
<rect x="280" y="68.8" width="14.5" height="3.0" rx="0.9" fill="#98bf5a"/>
<line x1="266.2" y1="75.55" x2="320" y2="75.55" stroke="#9a9a9a" stroke-width="0.5"/>
<rect x="267.8" y="74.05" width="28.8" height="3.0" rx="0.9" fill="#171313"/>
<rect x="298.3" y="74.05" width="21.7" height="3.0" rx="0.9" fill="#98bf5a"/>
<line x1="266.2" y1="80.8" x2="318.6" y2="80.8" stroke="#9a9a9a" stroke-width="0.5"/>
<rect x="267.2" y="79.3" width="28.8" height="3.0" rx="0.9" fill="#171313"/>
<rect x="297.6" y="79.3" width="21" height="3.0" rx="0.9" fill="#98bf5a"/>
<line x1="266.2" y1="86.05" x2="321.3" y2="86.05" stroke="#9a9a9a" stroke-width="0.5"/>
<rect x="269.9" y="84.55" width="29.1" height="3.0" rx="0.9" fill="#171313"/>
<rect x="300.5" y="84.55" width="20.8" height="3.0" rx="0.9" fill="#98bf5a"/>
<line x1="266.2" y1="91.3" x2="320.3" y2="91.3" stroke="#9a9a9a" stroke-width="0.5"/>
<rect x="267.8" y="89.8" width="30.2" height="3.0" rx="0.9" fill="#171313"/>
<rect x="299.5" y="89.8" width="20.8" height="3.0" rx="0.9" fill="#98bf5a"/>
<line x1="266.2" y1="96.55" x2="320.3" y2="96.55" stroke="#9a9a9a" stroke-width="0.5"/>
<rect x="267.8" y="95.05" width="30.2" height="3.0" rx="0.9" fill="#171313"/>
<rect x="299.5" y="95.05" width="20.8" height="3.0" rx="0.9" fill="#98bf5a"/>
<line x1="266.2" y1="101.8" x2="320.3" y2="101.8" stroke="#9a9a9a" stroke-width="0.5"/>
<rect x="267.8" y="100.3" width="30.2" height="3.0" rx="0.9" fill="#171313"/>
<rect x="299.5" y="100.3" width="20.8" height="3.0" rx="0.9" fill="#98bf5a"/>
<line x1="266.2" y1="107.05" x2="320.3" y2="107.05" stroke="#9a9a9a" stroke-width="0.5"/>
<rect x="267.8" y="105.55" width="30.2" height="3.0" rx="0.9" fill="#171313"/>
<rect x="299.5" y="105.55" width="20.8" height="3.0" rx="0.9" fill="#98bf5a"/>
<line x1="266.2" y1="112.3" x2="320" y2="112.3" stroke="#9a9a9a" stroke-width="0.5"/>
<rect x="267.8" y="110.8" width="30.2" height="3.0" rx="0.9" fill="#171313"/>
<rect x="299" y="110.8" width="21" height="3.0" rx="0.9" fill="#98bf5a"/>
<line x1="266.2" y1="117.55" x2="320" y2="117.55" stroke="#9a9a9a" stroke-width="0.5"/>
<rect x="267.8" y="116.05" width="30.2" height="3.0" rx="0.9" fill="#171313"/>
<rect x="299" y="116.05" width="21" height="3.0" rx="0.9" fill="#98bf5a"/>
<line x1="266.2" y1="122.8" x2="320" y2="122.8" stroke="#9a9a9a" stroke-width="0.5"/>
<rect x="267.2" y="121.3" width="29.4" height="3.0" rx="0.9" fill="#171313"/>
<rect x="298" y="121.3" width="22" height="3.0" rx="0.9" fill="#98bf5a"/>
<line x1="266.2" y1="128.05" x2="319.6" y2="128.05" stroke="#9a9a9a" stroke-width="0.5"/>
<rect x="268.2" y="126.55" width="29.2" height="3.0" rx="0.9" fill="#171313"/>
<rect x="298.7" y="126.55" width="20.9" height="3.0" rx="0.9" fill="#98bf5a"/>
<line x1="266.2" y1="133.3" x2="317.2" y2="133.3" stroke="#9a9a9a" stroke-width="0.5"/>
<rect x="271.3" y="131.8" width="22.7" height="3.0" rx="0.9" fill="#171313"/>
<rect x="296" y="131.8" width="21.2" height="3.0" rx="0.9" fill="#98bf5a"/>
<line x1="266.2" y1="138.55" x2="320" y2="138.55" stroke="#9a9a9a" stroke-width="0.5"/>
<rect x="267.8" y="137.05" width="30.2" height="3.0" rx="0.9" fill="#171313"/>
<rect x="299.5" y="137.05" width="20.5" height="3.0" rx="0.9" fill="#98bf5a"/>
<line x1="266.2" y1="143.8" x2="319.6" y2="143.8" stroke="#9a9a9a" stroke-width="0.5"/>
<rect x="267.8" y="142.3" width="30.2" height="3.0" rx="0.9" fill="#171313"/>
<rect x="299.5" y="142.3" width="20.1" height="3.0" rx="0.9" fill="#98bf5a"/>
<line x1="266.2" y1="149.05" x2="323.8" y2="149.05" stroke="#9a9a9a" stroke-width="0.5"/>
<rect x="267.2" y="147.55" width="33.9" height="3.0" rx="0.9" fill="#171313"/>
<rect x="302.2" y="147.55" width="21.6" height="3.0" rx="0.9" fill="#98bf5a"/>
<line x1="266.2" y1="154.3" x2="305.7" y2="154.3" stroke="#9a9a9a" stroke-width="0.5"/>
<rect x="273.4" y="152.8" width="28.8" height="3.0" rx="0.9" fill="#5f8038"/>
<line x1="266.2" y1="159.55" x2="315.1" y2="159.55" stroke="#9a9a9a" stroke-width="0.5"/>
<rect x="268.2" y="158.05" width="28.4" height="3.0" rx="0.9" fill="#e4d45a"/>
<line x1="266.2" y1="164.8" x2="295.4" y2="164.8" stroke="#9a9a9a" stroke-width="0.5"/>
<rect x="267.2" y="163.3" width="28.2" height="3.0" rx="0.9" fill="#6f7d87"/>
<line x1="266.2" y1="170.05" x2="301.1" y2="170.05" stroke="#9a9a9a" stroke-width="0.5"/>
<rect x="275.4" y="168.55" width="25.7" height="3.0" rx="0.9" fill="#2a4a8c"/>
<line x1="266.2" y1="175.3" x2="324.2" y2="175.3" stroke="#9a9a9a" stroke-width="0.5"/>
<rect x="297" y="173.8" width="27.2" height="3.0" rx="0.9" fill="#6f7d87"/>
<line x1="266.2" y1="180.55" x2="322.7" y2="180.55" stroke="#9a9a9a" stroke-width="0.5"/>
<rect x="297" y="179.05" width="25.7" height="3.0" rx="0.9" fill="#2a4a8c"/>
<line x1="266.2" y1="185.8" x2="294.5" y2="185.8" stroke="#9a9a9a" stroke-width="0.5"/>
<rect x="267.2" y="184.3" width="27.3" height="3.0" rx="0.9" fill="#6f7d87"/>
<line x1="266.2" y1="191.05" x2="294.5" y2="191.05" stroke="#9a9a9a" stroke-width="0.5"/>
<rect x="267.2" y="189.55" width="27.3" height="3.0" rx="0.9" fill="#6f7d87"/>
<line x1="266.2" y1="196.3" x2="305.2" y2="196.3" stroke="#9a9a9a" stroke-width="0.5"/>
<rect x="266.6" y="194.8" width="21.8" height="3.0" rx="0.9" fill="#e4d45a"/>
<line x1="266.2" y1="201.55" x2="313" y2="201.55" stroke="#9a9a9a" stroke-width="0.5"/>
<rect x="266.6" y="200.05" width="34.1" height="3.0" rx="0.9" fill="#b98cb9"/>
<line x1="266.2" y1="206.8" x2="316" y2="206.8" stroke="#9a9a9a" stroke-width="0.5"/>
<rect x="268.6" y="205.3" width="34.6" height="3.0" rx="0.9" fill="#b98cb9"/>
<rect x="301" y="205.3" width="3.8" height="3.0" rx="0.9" fill="#e4d45a"/>
<line x1="266.2" y1="212.05" x2="299.1" y2="212.05" stroke="#9a9a9a" stroke-width="0.5"/>
<rect x="276.9" y="210.55" width="22.2" height="3.0" rx="0.9" fill="#e4d45a"/>
<line x1="266.2" y1="217.3" x2="313.5" y2="217.3" stroke="#9a9a9a" stroke-width="0.5"/>
<rect x="267.2" y="215.8" width="25.7" height="3.0" rx="0.9" fill="#d89e88"/>
<rect x="292.9" y="215.8" width="8.2" height="3.0" rx="0.9" fill="#b98cb9"/>
<line x1="266.2" y1="222.55" x2="311.8" y2="222.55" stroke="#9a9a9a" stroke-width="0.5"/>
<rect x="267.2" y="221.05" width="23.6" height="3.0" rx="0.9" fill="#b98cb9"/>
<rect x="290.8" y="221.05" width="11.4" height="3.0" rx="0.9" fill="#e4d45a"/>
<line x1="266.2" y1="227.8" x2="312.4" y2="227.8" stroke="#9a9a9a" stroke-width="0.5"/>
<rect x="267.2" y="226.3" width="36.4" height="3.0" rx="0.9" fill="#b98cb9"/>
<line x1="266.2" y1="233.05" x2="292.9" y2="233.05" stroke="#9a9a9a" stroke-width="0.5"/>
<rect x="268.2" y="231.55" width="18.5" height="3.0" rx="0.9" fill="#e4d45a"/>
<line x1="266.2" y1="238.3" x2="306.3" y2="238.3" stroke="#9a9a9a" stroke-width="0.5"/>
<rect x="267.2" y="236.8" width="25.7" height="3.0" rx="0.9" fill="#b98cb9"/>
<rect x="292.9" y="236.8" width="7.8" height="3.0" rx="0.9" fill="#e4d45a"/>
<line x1="266.2" y1="243.55" x2="309.8" y2="243.55" stroke="#9a9a9a" stroke-width="0.5"/>
<rect x="267.2" y="242.05" width="26.8" height="3.0" rx="0.9" fill="#e4d45a"/>
<line x1="266.2" y1="248.8" x2="313" y2="248.8" stroke="#9a9a9a" stroke-width="0.5"/>
<rect x="267.2" y="247.3" width="17.9" height="3.0" rx="0.9" fill="#d89e88"/>
<line x1="266.2" y1="254.05" x2="313" y2="254.05" stroke="#9a9a9a" stroke-width="0.5"/>
<rect x="267.2" y="252.55" width="25.7" height="3.0" rx="0.9" fill="#b98cb9"/>
<rect x="292.9" y="252.55" width="10.3" height="3.0" rx="0.9" fill="#e4d45a"/>
<line x1="266.2" y1="259.3" x2="313" y2="259.3" stroke="#9a9a9a" stroke-width="0.5"/>
<rect x="267.2" y="257.8" width="22.6" height="3.0" rx="0.9" fill="#b98cb9"/>
<rect x="289.8" y="257.8" width="10.3" height="3.0" rx="0.9" fill="#e4d45a"/>
<line x1="266.2" y1="264.55" x2="311.8" y2="264.55" stroke="#9a9a9a" stroke-width="0.5"/>
<rect x="267.2" y="263.05" width="22.6" height="3.0" rx="0.9" fill="#b98cb9"/>
<rect x="289.8" y="263.05" width="11.3" height="3.0" rx="0.9" fill="#e4d45a"/>
<line x1="266.2" y1="269.8" x2="338.5" y2="269.8" stroke="#9a9a9a" stroke-width="0.5"/>
<rect x="272.3" y="268.3" width="64.5" height="3.0" rx="0.9" fill="#5f8038"/>
<line x1="266.2" y1="275.05" x2="337.7" y2="275.05" stroke="#9a9a9a" stroke-width="0.5"/>
<rect x="271.9" y="273.55" width="63.1" height="3.0" rx="0.9" fill="#5f8038"/>
<line x1="266.2" y1="280.3" x2="317.6" y2="280.3" stroke="#9a9a9a" stroke-width="0.5"/>
<rect x="269.3" y="278.8" width="46.2" height="3.0" rx="0.9" fill="#5f8038"/>
<line x1="266.2" y1="285.55" x2="323.5" y2="285.55" stroke="#9a9a9a" stroke-width="0.5"/>
<rect x="266.2" y="284.05" width="54.8" height="3.0" rx="0.9" fill="#5f8038"/>
<line x1="266.2" y1="290.8" x2="335.5" y2="290.8" stroke="#9a9a9a" stroke-width="0.5"/>
<rect x="271.9" y="289.3" width="61.4" height="3.0" rx="0.9" fill="#5f8038"/>
<line x1="266.2" y1="296.05" x2="337.5" y2="296.05" stroke="#9a9a9a" stroke-width="0.5"/>
<rect x="271.3" y="294.55" width="64.7" height="3.0" rx="0.9" fill="#5f8038"/>
<line x1="266.2" y1="301.3" x2="311.4" y2="301.3" stroke="#9a9a9a" stroke-width="0.5"/>
<rect x="270.7" y="299.8" width="37.6" height="3.0" rx="0.9" fill="#5f8038"/>
<line x1="266.2" y1="306.55" x2="337.5" y2="306.55" stroke="#9a9a9a" stroke-width="0.5"/>
<rect x="270.7" y="305.05" width="65.3" height="3.0" rx="0.9" fill="#5f8038"/>
<line x1="266.2" y1="311.8" x2="337.5" y2="311.8" stroke="#9a9a9a" stroke-width="0.5"/>
<rect x="270.7" y="310.3" width="65.3" height="3.0" rx="0.9" fill="#5f8038"/>
<line x1="266.2" y1="317.05" x2="291.9" y2="317.05" stroke="#9a9a9a" stroke-width="0.5"/>
<rect x="266.2" y="315.55" width="23.6" height="3.0" rx="0.9" fill="#5f8038"/>
<line x1="266.2" y1="322.3" x2="300.7" y2="322.3" stroke="#9a9a9a" stroke-width="0.5"/>
<rect x="271.9" y="320.8" width="27.2" height="3.0" rx="0.9" fill="#5f8038"/>
<line x1="266.2" y1="327.55" x2="344.8" y2="327.55" stroke="#9a9a9a" stroke-width="0.5"/>
<rect x="302.2" y="326.05" width="37.7" height="3.0" rx="0.9" fill="#5f8038"/>
<line x1="266.2" y1="332.8" x2="303.8" y2="332.8" stroke="#9a9a9a" stroke-width="0.5"/>
<rect x="277.5" y="331.3" width="26.3" height="3.0" rx="0.9" fill="#6f7d87"/>
<line x1="266.2" y1="338.05" x2="321.3" y2="338.05" stroke="#9a9a9a" stroke-width="0.5"/>
<rect x="296.6" y="336.55" width="13.8" height="3.0" rx="0.9" fill="#e2c9a2"/>
<line x1="266.2" y1="343.3" x2="313.9" y2="343.3" stroke="#9a9a9a" stroke-width="0.5"/>
<rect x="272.8" y="341.8" width="15" height="3.0" rx="0.9" fill="#4a6631"/>
<rect x="294.5" y="341.8" width="12.8" height="3.0" rx="0.9" fill="#e2c9a2"/>
<line x1="266.2" y1="348.55" x2="317.2" y2="348.55" stroke="#9a9a9a" stroke-width="0.5"/>
<rect x="272.8" y="347.05" width="16" height="3.0" rx="0.9" fill="#4a6631"/>
<rect x="296" y="347.05" width="13.4" height="3.0" rx="0.9" fill="#e2c9a2"/>
<line x1="266.2" y1="353.8" x2="317.2" y2="353.8" stroke="#9a9a9a" stroke-width="0.5"/>
<rect x="272.8" y="352.3" width="15.6" height="3.0" rx="0.9" fill="#4a6631"/>
<rect x="296" y="352.3" width="13.4" height="3.0" rx="0.9" fill="#e2c9a2"/>
<line x1="266.2" y1="359.05" x2="311.4" y2="359.05" stroke="#9a9a9a" stroke-width="0.5"/>
<rect x="271.3" y="357.55" width="15" height="3.0" rx="0.9" fill="#4a6631"/>
<rect x="292.9" y="357.55" width="13.4" height="3.0" rx="0.9" fill="#e2c9a2"/>
<line x1="266.2" y1="364.3" x2="319.2" y2="364.3" stroke="#9a9a9a" stroke-width="0.5"/>
<rect x="272.8" y="362.8" width="13.5" height="3.0" rx="0.9" fill="#4a6631"/>
<rect x="295" y="362.8" width="13.3" height="3.0" rx="0.9" fill="#e2c9a2"/>
<line x1="266.2" y1="369.55" x2="316.6" y2="369.55" stroke="#9a9a9a" stroke-width="0.5"/>
<rect x="272.8" y="368.05" width="15" height="3.0" rx="0.9" fill="#4a6631"/>
<rect x="294.5" y="368.05" width="13.2" height="3.0" rx="0.9" fill="#e2c9a2"/>
<line x1="266.2" y1="374.8" x2="316" y2="374.8" stroke="#9a9a9a" stroke-width="0.5"/>
<rect x="272.8" y="373.3" width="15" height="3.0" rx="0.9" fill="#4a6631"/>
<rect x="294.5" y="373.3" width="13.2" height="3.0" rx="0.9" fill="#e2c9a2"/>
<line x1="266.2" y1="380.05" x2="290.4" y2="380.05" stroke="#9a9a9a" stroke-width="0.5"/>
<rect x="271.9" y="378.55" width="14.4" height="3.0" rx="0.9" fill="#4a6631"/>
<line x1="266.2" y1="385.3" x2="313" y2="385.3" stroke="#9a9a9a" stroke-width="0.5"/>
<rect x="270.7" y="383.8" width="15" height="3.0" rx="0.9" fill="#4a6631"/>
<rect x="291.9" y="383.8" width="13.3" height="3.0" rx="0.9" fill="#e2c9a2"/>
<line x1="266.2" y1="390.55" x2="313" y2="390.55" stroke="#9a9a9a" stroke-width="0.5"/>
<rect x="270.7" y="389.05" width="15" height="3.0" rx="0.9" fill="#4a6631"/>
<rect x="291.9" y="389.05" width="13.3" height="3.0" rx="0.9" fill="#e2c9a2"/>
<line x1="266.2" y1="395.8" x2="312.4" y2="395.8" stroke="#9a9a9a" stroke-width="0.5"/>
<rect x="269.9" y="394.3" width="9.6" height="3.0" rx="0.9" fill="#4a6631"/>
<rect x="290.8" y="394.3" width="14" height="3.0" rx="0.9" fill="#e2c9a2"/>
<line x1="266.2" y1="401.05" x2="310.4" y2="401.05" stroke="#9a9a9a" stroke-width="0.5"/>
<rect x="269.3" y="399.55" width="9.2" height="3.0" rx="0.9" fill="#4a6631"/>
<rect x="290.4" y="399.55" width="13.2" height="3.0" rx="0.9" fill="#e2c9a2"/>
<line x1="266.2" y1="406.3" x2="311" y2="406.3" stroke="#9a9a9a" stroke-width="0.5"/>
<rect x="269.9" y="404.8" width="14.8" height="3.0" rx="0.9" fill="#4a6631"/>
<rect x="291.3" y="404.8" width="12.3" height="3.0" rx="0.9" fill="#e2c9a2"/>
<line x1="266.2" y1="411.55" x2="306.9" y2="411.55" stroke="#9a9a9a" stroke-width="0.5"/>
<rect x="271.9" y="410.05" width="15.2" height="3.0" rx="0.9" fill="#4a6631"/>
<rect x="294" y="410.05" width="9.6" height="3.0" rx="0.9" fill="#e2c9a2"/>
<line x1="266.2" y1="416.8" x2="306.9" y2="416.8" stroke="#9a9a9a" stroke-width="0.5"/>
<rect x="271.9" y="415.3" width="15.2" height="3.0" rx="0.9" fill="#4a6631"/>
<rect x="294" y="415.3" width="9.6" height="3.0" rx="0.9" fill="#e2c9a2"/>
<line x1="266.2" y1="422.05" x2="292.9" y2="422.05" stroke="#9a9a9a" stroke-width="0.5"/>
<rect x="273.4" y="420.55" width="14.4" height="3.0" rx="0.9" fill="#4a6631"/>
<line x1="266.2" y1="427.3" x2="315.1" y2="427.3" stroke="#9a9a9a" stroke-width="0.5"/>
<rect x="273.4" y="425.8" width="15.4" height="3.0" rx="0.9" fill="#4a6631"/>
<rect x="295" y="425.8" width="13.3" height="3.0" rx="0.9" fill="#e2c9a2"/>
<line x1="266.2" y1="432.55" x2="292.5" y2="432.55" stroke="#9a9a9a" stroke-width="0.5"/>
<rect x="273.4" y="431.05" width="14.4" height="3.0" rx="0.9" fill="#4a6631"/>
<line x1="266.2" y1="437.8" x2="291.9" y2="437.8" stroke="#9a9a9a" stroke-width="0.5"/>
<rect x="273.4" y="436.3" width="15" height="3.0" rx="0.9" fill="#4a6631"/>
<line x1="266.2" y1="443.05" x2="304.8" y2="443.05" stroke="#9a9a9a" stroke-width="0.5"/>
<rect x="268.2" y="441.55" width="11.3" height="3.0" rx="0.9" fill="#4a6631"/>
<rect x="285.7" y="441.55" width="13" height="3.0" rx="0.9" fill="#e2c9a2"/>
<line x1="266.2" y1="448.3" x2="321.3" y2="448.3" stroke="#9a9a9a" stroke-width="0.5"/>
<rect x="282.6" y="446.8" width="12.4" height="3.0" rx="0.9" fill="#4a6631"/>
<rect x="302.2" y="446.8" width="12.9" height="3.0" rx="0.9" fill="#e2c9a2"/>
</g>
<text x="55.9" y="47" font-family="Liberation Sans, Arial, sans-serif" font-size="8.6" letter-spacing="0.6" fill="#2a2a2a" stroke="#2a2a2a" stroke-width="0.1">domain</text>
<line x1="55.5" y1="48.4" x2="90.1" y2="48.4" stroke="#c8c8c8" stroke-width="0.6"/>
<rect x="56.25" y="50.25" width="8.5" height="8.3" fill="#1e1a1a" stroke="#000000" stroke-width="0.5" stroke-opacity="0.6"/>
<text x="68.1" y="59.05" font-family="Liberation Sans, Arial, sans-serif" font-size="7.3" letter-spacing="0.32" fill="#111111" stroke="#111111" stroke-width="0.22">Chal_sti_synt_N</text>
<rect x="56.25" y="62.5" width="8.5" height="8.3" fill="#93c83e" stroke="#7fae2e" stroke-width="0.5" stroke-opacity="0.6"/>
<text x="68.1" y="71.3" font-family="Liberation Sans, Arial, sans-serif" font-size="7.3" letter-spacing="0.32" fill="#111111" stroke="#111111" stroke-width="0.22">Chal_sti_synt_C</text>
<rect x="56.25" y="74.75" width="8.5" height="8.3" fill="#77889a" stroke="#62748a" stroke-width="0.5" stroke-opacity="0.6"/>
<text x="68.1" y="83.55" font-family="Liberation Sans, Arial, sans-serif" font-size="7.3" letter-spacing="0.32" fill="#111111" stroke="#111111" stroke-width="0.22">Chalcone</text>
<rect x="56.25" y="87" width="8.5" height="8.3" fill="#f0b5c5" stroke="#dca0b0" stroke-width="0.5" stroke-opacity="0.6"/>
<text x="68.1" y="95.8" font-family="Liberation Sans, Arial, sans-serif" font-size="7.3" letter-spacing="0.32" fill="#111111" stroke="#111111" stroke-width="0.22">Chalcone_2</text>
<rect x="56.25" y="99.25" width="8.5" height="8.3" fill="#1f47a6" stroke="#183a90" stroke-width="0.5" stroke-opacity="0.6"/>
<text x="68.1" y="108.05" font-family="Liberation Sans, Arial, sans-serif" font-size="7.3" letter-spacing="0.32" fill="#111111" stroke="#111111" stroke-width="0.22">Chalcone_3</text>
<rect x="56.25" y="111.5" width="8.5" height="8.3" fill="#dcbb8c" stroke="#c9a878" stroke-width="0.5" stroke-opacity="0.6"/>
<text x="68.1" y="120.3" font-family="Liberation Sans, Arial, sans-serif" font-size="7.3" letter-spacing="0.32" fill="#111111" stroke="#111111" stroke-width="0.22">2OG-FeII_Oxy</text>
<rect x="56.25" y="123.75" width="8.5" height="8.3" fill="#486a2e" stroke="#3a5a22" stroke-width="0.5" stroke-opacity="0.6"/>
<text x="68.1" y="132.55" font-family="Liberation Sans, Arial, sans-serif" font-size="7.3" letter-spacing="0.32" fill="#111111" stroke="#111111" stroke-width="0.22">DIOX_N</text>
<rect x="56.25" y="136" width="8.5" height="8.3" fill="#5c8b2e" stroke="#4c7a22" stroke-width="0.5" stroke-opacity="0.6"/>
<text x="68.1" y="144.8" font-family="Liberation Sans, Arial, sans-serif" font-size="7.3" letter-spacing="0.32" fill="#111111" stroke="#111111" stroke-width="0.22">p450</text>
<rect x="56.25" y="148.25" width="8.5" height="8.3" fill="#f1d12f" stroke="#dcbc20" stroke-width="0.5" stroke-opacity="0.6"/>
<text x="68.1" y="157.05" font-family="Liberation Sans, Arial, sans-serif" font-size="7.3" letter-spacing="0.32" fill="#111111" stroke="#111111" stroke-width="0.22">Epimerase</text>
<rect x="56.25" y="160.5" width="8.5" height="8.3" fill="#c07ac4" stroke="#a866ac" stroke-width="0.5" stroke-opacity="0.6"/>
<text x="68.1" y="169.3" font-family="Liberation Sans, Arial, sans-serif" font-size="7.3" letter-spacing="0.32" fill="#111111" stroke="#111111" stroke-width="0.22">3Beta_HSD</text>
<rect x="56.25" y="172.75" width="8.5" height="8.3" fill="#e38b6f" stroke="#cc7a5e" stroke-width="0.5" stroke-opacity="0.6"/>
<text x="68.1" y="181.55" font-family="Liberation Sans, Arial, sans-serif" font-size="7.3" letter-spacing="0.32" fill="#111111" stroke="#111111" stroke-width="0.22">adh_short</text>
</svg>
<div class="brief">
<p class="hd" style="top:435.94px">In Brief</p>
<p style="top:451.75px">Here, 85 key structural gene candidates associated with the rice</p>
<p style="top:467.34px">general flavonoid scaffolds biosynthetic pathway have</p>
<p style="top:482.84px">been firstly systematic and comprehensive identified and</p>
<p style="top:498.44px"> analyzed. They belonging to 13 gene families were categorized</p>
<p style="top:513.95px"> into 5 distinct lineages based on the analysis of structural</p>
<p style="top:529.45px">features and phylogenetic relationships</p>
</div>
</body></html>
